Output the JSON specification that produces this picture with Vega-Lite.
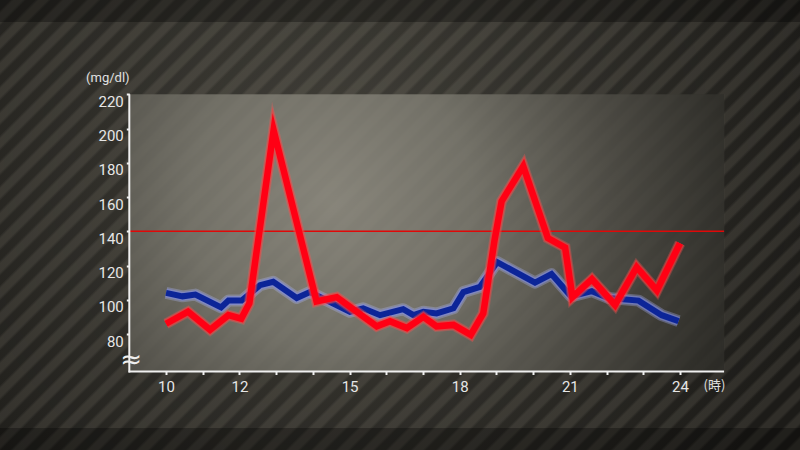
{
  "$schema": "https://vega.github.io/schema/vega-lite/v6.json",
  "width": 800,
  "height": 450,
  "autosize": {"type": "none"},
  "padding": 0,
  "background": "#24231f",
  "config": {
    "view": {
      "stroke": null,
      "fill": {
        "gradient": "linear", "x1": 0, "y1": 0, "x2": 1.187, "y2": 0.668,
        "stops": [
{"offset":0.001,"color":"#1c1b18"},{"offset":0.008,"color":"#1c1b18"},{"offset":0.011,"color":"#302e29"},{"offset":0.018,"color":"#302e29"},
{"offset":0.021,"color":"#1c1b18"},{"offset":0.028,"color":"#1c1b18"},{"offset":0.031,"color":"#302e29"},{"offset":0.038,"color":"#302e29"},
{"offset":0.041,"color":"#1c1b18"},{"offset":0.048,"color":"#1c1b18"},{"offset":0.051,"color":"#302e29"},{"offset":0.058,"color":"#302e29"},
{"offset":0.061,"color":"#1c1b18"},{"offset":0.068,"color":"#1c1b18"},{"offset":0.071,"color":"#302e29"},{"offset":0.078,"color":"#302e29"},
{"offset":0.081,"color":"#1c1b18"},{"offset":0.088,"color":"#1c1b18"},{"offset":0.091,"color":"#302e29"},{"offset":0.098,"color":"#302e29"},
{"offset":0.101,"color":"#1c1b18"},{"offset":0.108,"color":"#1c1b18"},{"offset":0.111,"color":"#302e29"},{"offset":0.118,"color":"#302e29"},
{"offset":0.121,"color":"#1c1b18"},{"offset":0.128,"color":"#1c1b18"},{"offset":0.131,"color":"#302e29"},{"offset":0.138,"color":"#302e29"},
{"offset":0.141,"color":"#1c1b18"},{"offset":0.148,"color":"#1c1b18"},{"offset":0.151,"color":"#302e29"},{"offset":0.158,"color":"#302e29"},
{"offset":0.161,"color":"#1c1b18"},{"offset":0.168,"color":"#1c1b18"},{"offset":0.171,"color":"#302e29"},{"offset":0.178,"color":"#302e29"},
{"offset":0.181,"color":"#1c1b18"},{"offset":0.188,"color":"#1c1b18"},{"offset":0.191,"color":"#302e29"},{"offset":0.198,"color":"#302e29"},
{"offset":0.201,"color":"#1c1b18"},{"offset":0.208,"color":"#1c1b18"},{"offset":0.211,"color":"#302e29"},{"offset":0.218,"color":"#302e29"},
{"offset":0.221,"color":"#1c1b18"},{"offset":0.228,"color":"#1c1b18"},{"offset":0.231,"color":"#302e29"},{"offset":0.238,"color":"#302e29"},
{"offset":0.241,"color":"#1c1b18"},{"offset":0.248,"color":"#1c1b18"},{"offset":0.251,"color":"#302e29"},{"offset":0.258,"color":"#302e29"},
{"offset":0.261,"color":"#1c1b18"},{"offset":0.268,"color":"#1c1b18"},{"offset":0.271,"color":"#302e29"},{"offset":0.278,"color":"#302e29"},
{"offset":0.281,"color":"#1c1b18"},{"offset":0.288,"color":"#1c1b18"},{"offset":0.291,"color":"#302e29"},{"offset":0.298,"color":"#302e29"},
{"offset":0.301,"color":"#1c1b18"},{"offset":0.308,"color":"#1c1b18"},{"offset":0.311,"color":"#302e29"},{"offset":0.318,"color":"#302e29"},
{"offset":0.321,"color":"#1c1b18"},{"offset":0.328,"color":"#1c1b18"},{"offset":0.331,"color":"#302e29"},{"offset":0.338,"color":"#302e29"},
{"offset":0.341,"color":"#1c1b18"},{"offset":0.348,"color":"#1c1b18"},{"offset":0.351,"color":"#302e29"},{"offset":0.358,"color":"#302e29"},
{"offset":0.361,"color":"#1c1b18"},{"offset":0.368,"color":"#1c1b18"},{"offset":0.371,"color":"#302e29"},{"offset":0.378,"color":"#302e29"},
{"offset":0.381,"color":"#1c1b18"},{"offset":0.388,"color":"#1c1b18"},{"offset":0.391,"color":"#302e29"},{"offset":0.398,"color":"#302e29"},
{"offset":0.401,"color":"#1c1b18"},{"offset":0.408,"color":"#1c1b18"},{"offset":0.411,"color":"#302e29"},{"offset":0.418,"color":"#302e29"},
{"offset":0.421,"color":"#1c1b18"},{"offset":0.428,"color":"#1c1b18"},{"offset":0.431,"color":"#302e29"},{"offset":0.438,"color":"#302e29"},
{"offset":0.441,"color":"#1c1b18"},{"offset":0.448,"color":"#1c1b18"},{"offset":0.451,"color":"#302e29"},{"offset":0.458,"color":"#302e29"},
{"offset":0.461,"color":"#1c1b18"},{"offset":0.468,"color":"#1c1b18"},{"offset":0.471,"color":"#302e29"},{"offset":0.478,"color":"#302e29"},
{"offset":0.481,"color":"#1c1b18"},{"offset":0.488,"color":"#1c1b18"},{"offset":0.491,"color":"#302e29"},{"offset":0.498,"color":"#302e29"},
{"offset":0.501,"color":"#1c1b18"},{"offset":0.508,"color":"#1c1b18"},{"offset":0.511,"color":"#302e29"},{"offset":0.518,"color":"#302e29"},
{"offset":0.521,"color":"#1c1b18"},{"offset":0.528,"color":"#1c1b18"},{"offset":0.531,"color":"#302e29"},{"offset":0.538,"color":"#302e29"},
{"offset":0.541,"color":"#1c1b18"},{"offset":0.548,"color":"#1c1b18"},{"offset":0.551,"color":"#302e29"},{"offset":0.558,"color":"#302e29"},
{"offset":0.561,"color":"#1c1b18"},{"offset":0.568,"color":"#1c1b18"},{"offset":0.571,"color":"#302e29"},{"offset":0.578,"color":"#302e29"},
{"offset":0.581,"color":"#1c1b18"},{"offset":0.588,"color":"#1c1b18"},{"offset":0.591,"color":"#302e29"},{"offset":0.598,"color":"#302e29"},
{"offset":0.601,"color":"#1c1b18"},{"offset":0.608,"color":"#1c1b18"},{"offset":0.611,"color":"#302e29"},{"offset":0.618,"color":"#302e29"},
{"offset":0.621,"color":"#1c1b18"},{"offset":0.628,"color":"#1c1b18"},{"offset":0.631,"color":"#302e29"},{"offset":0.638,"color":"#302e29"},
{"offset":0.641,"color":"#1c1b18"},{"offset":0.648,"color":"#1c1b18"},{"offset":0.651,"color":"#302e29"},{"offset":0.658,"color":"#302e29"},
{"offset":0.661,"color":"#1c1b18"},{"offset":0.668,"color":"#1c1b18"},{"offset":0.671,"color":"#302e29"},{"offset":0.678,"color":"#302e29"},
{"offset":0.681,"color":"#1c1b18"},{"offset":0.688,"color":"#1c1b18"},{"offset":0.691,"color":"#302e29"},{"offset":0.698,"color":"#302e29"},
{"offset":0.701,"color":"#1c1b18"},{"offset":0.708,"color":"#1c1b18"},{"offset":0.711,"color":"#302e29"},{"offset":0.718,"color":"#302e29"},
{"offset":0.721,"color":"#1c1b18"},{"offset":0.728,"color":"#1c1b18"},{"offset":0.731,"color":"#302e29"},{"offset":0.738,"color":"#302e29"},
{"offset":0.741,"color":"#1c1b18"},{"offset":0.748,"color":"#1c1b18"},{"offset":0.751,"color":"#302e29"},{"offset":0.758,"color":"#302e29"},
{"offset":0.761,"color":"#1c1b18"},{"offset":0.768,"color":"#1c1b18"},{"offset":0.771,"color":"#302e29"},{"offset":0.778,"color":"#302e29"},
{"offset":0.781,"color":"#1c1b18"},{"offset":0.788,"color":"#1c1b18"},{"offset":0.791,"color":"#302e29"},{"offset":0.798,"color":"#302e29"},
{"offset":0.801,"color":"#1c1b18"},{"offset":0.808,"color":"#1c1b18"},{"offset":0.811,"color":"#302e29"},{"offset":0.818,"color":"#302e29"},
{"offset":0.821,"color":"#1c1b18"},{"offset":0.828,"color":"#1c1b18"},{"offset":0.831,"color":"#302e29"},{"offset":0.838,"color":"#302e29"},
{"offset":0.841,"color":"#1c1b18"},{"offset":0.848,"color":"#1c1b18"},{"offset":0.851,"color":"#302e29"},{"offset":0.858,"color":"#302e29"},
{"offset":0.861,"color":"#1c1b18"},{"offset":0.868,"color":"#1c1b18"},{"offset":0.871,"color":"#302e29"},{"offset":0.878,"color":"#302e29"},
{"offset":0.881,"color":"#1c1b18"},{"offset":0.888,"color":"#1c1b18"},{"offset":0.891,"color":"#302e29"},{"offset":0.898,"color":"#302e29"},
{"offset":0.901,"color":"#1c1b18"},{"offset":0.908,"color":"#1c1b18"},{"offset":0.911,"color":"#302e29"},{"offset":0.918,"color":"#302e29"},
{"offset":0.921,"color":"#1c1b18"},{"offset":0.928,"color":"#1c1b18"},{"offset":0.931,"color":"#302e29"},{"offset":0.938,"color":"#302e29"},
{"offset":0.941,"color":"#1c1b18"},{"offset":0.948,"color":"#1c1b18"},{"offset":0.951,"color":"#302e29"},{"offset":0.958,"color":"#302e29"},
{"offset":0.961,"color":"#1c1b18"},{"offset":0.968,"color":"#1c1b18"},{"offset":0.971,"color":"#302e29"},{"offset":0.978,"color":"#302e29"},
{"offset":0.981,"color":"#1c1b18"},{"offset":0.988,"color":"#1c1b18"},{"offset":0.991,"color":"#302e29"},{"offset":0.998,"color":"#302e29"}
        ]
      }
    },
    "axis": {"domain": false, "grid": false, "zindex": 2}
  },
  "datasets": {
    "blue": [
      {"hour": 10.0, "glucose": 104},
      {"hour": 10.45, "glucose": 102},
      {"hour": 10.8, "glucose": 103},
      {"hour": 11.5, "glucose": 95.5},
      {"hour": 11.7, "glucose": 99.5},
      {"hour": 12.06, "glucose": 99.5},
      {"hour": 12.56, "glucose": 108.5},
      {"hour": 12.92, "glucose": 110.5},
      {"hour": 13.56, "glucose": 101},
      {"hour": 13.92, "glucose": 104.5},
      {"hour": 15.01, "glucose": 93},
      {"hour": 15.37, "glucose": 95},
      {"hour": 15.83, "glucose": 91},
      {"hour": 16.46, "glucose": 94.5},
      {"hour": 16.74, "glucose": 91},
      {"hour": 17.01, "glucose": 93},
      {"hour": 17.37, "glucose": 92},
      {"hour": 17.83, "glucose": 95},
      {"hour": 18.1, "glucose": 104.5},
      {"hour": 18.55, "glucose": 107.5},
      {"hour": 19.02, "glucose": 122},
      {"hour": 20.05, "glucose": 110},
      {"hour": 20.5, "glucose": 115},
      {"hour": 21.03, "glucose": 102},
      {"hour": 21.6, "glucose": 105},
      {"hour": 22.05, "glucose": 101},
      {"hour": 22.87, "glucose": 99.5},
      {"hour": 23.5, "glucose": 91},
      {"hour": 23.96, "glucose": 87.5}
    ],
    "red": [
      {"hour": 10.0, "glucose": 86},
      {"hour": 10.6, "glucose": 93},
      {"hour": 11.2, "glucose": 82.5},
      {"hour": 11.7, "glucose": 91},
      {"hour": 12.05, "glucose": 89},
      {"hour": 12.27, "glucose": 98},
      {"hour": 12.93, "glucose": 199},
      {"hour": 14.1, "glucose": 99},
      {"hour": 14.65, "glucose": 101.5},
      {"hour": 15.74, "glucose": 84.5},
      {"hour": 16.1, "glucose": 87.5},
      {"hour": 16.56, "glucose": 83.5},
      {"hour": 17.01, "glucose": 90},
      {"hour": 17.37, "glucose": 84.5},
      {"hour": 17.83, "glucose": 85.3},
      {"hour": 18.3, "glucose": 79.5},
      {"hour": 18.64, "glucose": 92},
      {"hour": 18.95, "glucose": 135},
      {"hour": 19.14, "glucose": 157.5},
      {"hour": 19.73, "glucose": 178},
      {"hour": 20.4, "glucose": 136},
      {"hour": 20.87, "glucose": 130.5},
      {"hour": 21.07, "glucose": 101.5},
      {"hour": 21.6, "glucose": 112},
      {"hour": 22.23, "glucose": 97},
      {"hour": 22.82, "glucose": 119},
      {"hour": 23.37, "glucose": 105.5},
      {"hour": 24.0, "glucose": 133}
    ],
    "one": [{}]
  },
  "layer": [
    {
      "data": {"name": "one"},
      "mark": {"type": "rect", "fill": {"gradient": "radial", "x1": 0.42, "y1": 0.42, "r1": 0, "x2": 0.42, "y2": 0.42, "r2": 0.62,
        "stops": [{"offset": 0, "color": "rgba(200,195,175,0.22)"}, {"offset": 1, "color": "rgba(200,195,175,0)"}]}},
      "encoding": {}
    },
    {
      "data": {"name": "one"},
      "mark": {"type": "rect", "color": "#000000", "opacity": 0.3},
      "encoding": {
        "y": {"datum": 262.2, "type": "quantitative", "scale": {"domain": [12.25, 275.08], "nice": false, "zero": false}},
        "y2": {"datum": 275.08}
      }
    },
    {
      "data": {"name": "one"},
      "mark": {"type": "rect", "color": "#000000", "opacity": 0.3},
      "encoding": {
        "y": {"datum": 12.25, "type": "quantitative", "scale": {"domain": [12.25, 275.08], "nice": false, "zero": false}},
        "y2": {"datum": 25.1}
      }
    },
    {
      "data": {"name": "one"},
      "mark": {"type": "rect", "opacity": 0.85, "fill": {"gradient": "radial", "x1": 0.34, "y1": 0.45, "r1": 0, "x2": 0.34, "y2": 0.45, "r2": 0.8,
        "stops": [{"offset": 0, "color": "#928f84"}, {"offset": 0.3, "color": "#7c7a70"}, {"offset": 0.6, "color": "#504e47"}, {"offset": 0.85, "color": "#302f2a"}, {"offset": 1, "color": "#282723"}]}},
      "encoding": {
        "x": {"datum": 9, "type": "quantitative", "scale": {"domain": [5.478, 27.268], "nice": false, "zero": false}},
        "x2": {"datum": 25.2},
        "y": {"datum": 58.1, "type": "quantitative", "scale": {"domain": [12.25, 275.08], "nice": false, "zero": false}},
        "y2": {"datum": 220}
      }
    },
    {
      "data": {"name": "one"},
      "mark": {"type": "rule", "color": "#e00808", "strokeWidth": 1.6},
      "encoding": {
        "x": {"datum": 9, "type": "quantitative", "scale": {"domain": [5.478, 27.268], "nice": false, "zero": false}},
        "x2": {"datum": 25.2},
        "y": {"datum": 140, "type": "quantitative", "scale": {"domain": [12.25, 275.08], "nice": false, "zero": false}}
      }
    },
    {
      "data": {"name": "blue"},
      "mark": {"type": "line", "color": "#b4bcff", "opacity": 0.3, "strokeWidth": 12, "strokeJoin": "round"},
      "encoding": {
        "x": {"field": "hour", "type": "quantitative", "scale": {"domain": [5.478, 27.268], "nice": false, "zero": false}},
        "y": {"field": "glucose", "type": "quantitative", "scale": {"domain": [12.25, 275.08], "nice": false, "zero": false}}
      }
    },
    {
      "data": {"name": "blue"},
      "mark": {"type": "line", "color": "#7d8cf0", "opacity": 0.5, "strokeWidth": 9, "strokeJoin": "round"},
      "encoding": {
        "x": {"field": "hour", "type": "quantitative", "scale": {"domain": [5.478, 27.268], "nice": false, "zero": false}},
        "y": {"field": "glucose", "type": "quantitative", "scale": {"domain": [12.25, 275.08], "nice": false, "zero": false}}
      }
    },
    {
      "data": {"name": "blue"},
      "mark": {"type": "line", "color": "#0c2598", "strokeWidth": 6, "strokeJoin": "miter", "strokeMiterLimit": 10},
      "encoding": {
        "x": {"field": "hour", "type": "quantitative", "scale": {"domain": [5.478, 27.268], "nice": false, "zero": false},
          "axis": {"values": [10, 11, 12, 13, 14, 15, 16, 17, 18, 19, 20, 21, 22, 23, 24], "offset": -78.5, "zindex": 2,
            "labelExpr": "indexof([10,12,15,18,21,24], datum.value) >= 0 ? datum.label : ''",
            "tickSize": 3, "tickWidth": 2, "tickColor": "#f0f0f0",
            "labelColor": "#e6e6e6", "labelFont": "Roboto", "labelFontSize": 15, "labelPadding": 5, "labelOverlap": false, "labelFlush": false,
            "title": "(時)", "titleX": 714, "titleY": 14, "titleAlign": "center", "titleBaseline": "middle",
            "titleFont": "Noto Sans CJK JP", "titleFontSize": 13, "titleFontWeight": "normal", "titleColor": "#e0e0e0"}},
        "y": {"field": "glucose", "type": "quantitative", "scale": {"domain": [12.25, 275.08], "nice": false, "zero": false},
          "axis": {"values": [80, 100, 120, 140, 160, 180, 200, 220], "offset": -129.3, "zindex": 2,
            "tickSize": 3, "tickWidth": 2, "tickColor": "#f0f0f0",
            "labelColor": "#e6e6e6", "labelFont": "Roboto", "labelFontSize": 15, "labelPadding": 3, "labelOffset": 7, "labelOverlap": false, "labelFlush": false,
            "title": "(mg/dl)", "titleAngle": 0, "titleX": -22, "titleY": 77, "titleAlign": "center", "titleBaseline": "middle",
            "titleFont": "Roboto", "titleFontSize": 13, "titleFontWeight": "normal", "titleColor": "#e0e0e0"}}
      }
    },
    {
      "data": {"name": "red"},
      "mark": {"type": "line", "color": "#ff5a5a", "opacity": 0.3, "strokeWidth": 11, "strokeJoin": "miter", "strokeMiterLimit": 10},
      "encoding": {
        "x": {"field": "hour", "type": "quantitative", "scale": {"domain": [5.478, 27.268], "nice": false, "zero": false}},
        "y": {"field": "glucose", "type": "quantitative", "scale": {"domain": [12.25, 275.08], "nice": false, "zero": false}}
      }
    },
    {
      "data": {"name": "red"},
      "mark": {"type": "line", "color": "#ff3a3a", "opacity": 0.55, "strokeWidth": 9, "strokeJoin": "miter", "strokeMiterLimit": 10},
      "encoding": {
        "x": {"field": "hour", "type": "quantitative", "scale": {"domain": [5.478, 27.268], "nice": false, "zero": false}},
        "y": {"field": "glucose", "type": "quantitative", "scale": {"domain": [12.25, 275.08], "nice": false, "zero": false}}
      }
    },
    {
      "data": {"name": "red"},
      "mark": {"type": "line", "color": "#ff0014", "strokeWidth": 6.5, "strokeJoin": "miter", "strokeMiterLimit": 10},
      "encoding": {
        "x": {"field": "hour", "type": "quantitative", "scale": {"domain": [5.478, 27.268], "nice": false, "zero": false}},
        "y": {"field": "glucose", "type": "quantitative", "scale": {"domain": [12.25, 275.08], "nice": false, "zero": false}}
      }
    },
    {
      "data": {"name": "one"},
      "mark": {"type": "rule", "color": "#f0f0f0", "strokeWidth": 2},
      "encoding": {
        "x": {"datum": 9, "type": "quantitative", "scale": {"domain": [5.478, 27.268], "nice": false, "zero": false}},
        "y": {"datum": 57.5, "type": "quantitative", "scale": {"domain": [12.25, 275.08], "nice": false, "zero": false}},
        "y2": {"datum": 220}
      }
    },
    {
      "data": {"name": "one"},
      "mark": {"type": "rule", "color": "#f0f0f0", "strokeWidth": 2},
      "encoding": {
        "x": {"datum": 8.98, "type": "quantitative", "scale": {"domain": [5.478, 27.268], "nice": false, "zero": false}},
        "x2": {"datum": 25.2},
        "y": {"datum": 58.1, "type": "quantitative", "scale": {"domain": [12.25, 275.08], "nice": false, "zero": false}}
      }
    },
    {
      "data": {"name": "one"},
      "mark": {"type": "text", "text": "≈", "font": "DejaVu Sans", "fontSize": 26, "color": "#eeeeee", "align": "center", "baseline": "middle"},
      "encoding": {
        "x": {"datum": 9.05, "type": "quantitative", "scale": {"domain": [5.478, 27.268], "nice": false, "zero": false}},
        "y": {"datum": 65, "type": "quantitative", "scale": {"domain": [12.25, 275.08], "nice": false, "zero": false}}
      }
    }
  ]
}
